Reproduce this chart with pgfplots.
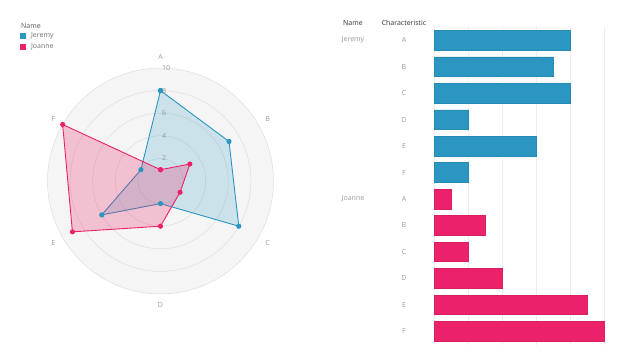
\documentclass[border=0pt]{standalone}
\usepackage{fontspec}
\setmainfont{Open Sans}
\usepackage{pgfplots}
\pgfplotsset{compat=1.18}
\usepgfplotslibrary{polar}
\definecolor{jblue}{HTML}{2A96C1}
\definecolor{jpink}{HTML}{EB2269}
\definecolor{lab}{HTML}{999999}
\definecolor{head}{HTML}{333333}
\begin{document}
\fontsize{7bp}{8.5bp}\selectfont
\begin{tikzpicture}
\path[use as bounding box] (0,0) rectangle (640bp,363bp);
% ---------------- radar ----------------
\begin{polaraxis}[
  at={(160.5bp,182bp)}, anchor=origin,
  scale only axis, width=226bp, height=226bp,
  ymin=0, ymax=10,
  xtick=\empty, ytick={2,4,6,8},
  yticklabel style={opacity=0},
  major tick length=0pt,
  ymajorgrids, grid style={draw=black!13, line width=0.5pt},
  x axis line style={draw=black!13, line width=0.5pt},
  y axis line style={draw=none},
  axis background/.style={fill=black!4},
  clip=false,
]
\addplot[color=jblue, line width=0.9pt, fill=jblue, fill opacity=0.2,
  mark=*, mark size=2.1pt, mark options={fill=jblue, fill opacity=1}]
  coordinates {(90,8) (30,7) (-30,8) (-90,2) (-150,6) (150,2) (90,8)};
\addplot[color=jpink, line width=0.9pt, fill=jpink, fill opacity=0.25,
  mark=*, mark size=2.1pt, mark options={fill=jpink, fill opacity=1}]
  coordinates {(90,1) (30,3) (-30,2) (-90,4) (-150,9) (150,10) (90,1)};
\node[anchor=west, text=lab, inner sep=0pt, xshift=1.5bp] at (axis cs:90,2) {2};
\node[anchor=west, text=lab, inner sep=0pt, xshift=1.5bp] at (axis cs:90,4) {4};
\node[anchor=west, text=lab, inner sep=0pt, xshift=1.5bp] at (axis cs:90,6) {6};
\node[anchor=west, text=lab, inner sep=0pt, xshift=1.5bp] at (axis cs:90,8) {8};
\node[anchor=west, text=lab, inner sep=0pt, xshift=1.5bp] at (axis cs:90,10) {10};
\node[text=lab] at (axis cs:90,10.95) {A};
\node[text=lab] at (axis cs:30,10.95) {B};
\node[text=lab] at (axis cs:-30,10.95) {C};
\node[text=lab] at (axis cs:-90,10.95) {D};
\node[text=lab] at (axis cs:-150,10.95) {E};
\node[text=lab] at (axis cs:150,10.95) {F};
\end{polaraxis}
% ---------------- bars ----------------
\begin{axis}[
  at={(434.3bp,18.5bp)}, anchor=south west,
  scale only axis, width=170bp, height=317.5bp,
  xmin=0, xmax=10, ymin=-0.5, ymax=11.5, y dir=reverse,
  axis line style={draw=none},
  xtick={0,2,4,6,8,10}, xticklabels={},
  ytick={0,...,11}, yticklabels={A,B,C,D,E,F,A,B,C,D,E,F},
  yticklabel style={anchor=center, xshift=-30.3bp, text=lab},
  major tick length=0pt,
  xmajorgrids, grid style={draw=black!7, line width=0.5pt},
  clip=false,
  legend style={at={(-2.437,0.9874)}, anchor=north west, draw=none, fill=none,
    inner sep=0pt, row sep=1.8bp, nodes={inner sep=1.5bp, text=black!55}},
  legend cell align=left,
]
\addplot[xbar, bar width=0.74, bar shift=0pt, fill=jblue, draw=jblue!92!black, line width=0.5pt, forget plot]
  coordinates {(8,0) (7,1) (8,2) (2,3) (6,4) (2,5)};
\addplot[xbar, bar width=0.74, bar shift=0pt, fill=jpink, draw=jpink!92!black, line width=0.5pt, forget plot]
  coordinates {(1,6) (3,7) (2,8) (4,9) (9,10) (10,11)};
\addlegendimage{legend image code/.code={\fill[jblue] (0bp,-2.5bp) rectangle (5bp,2.5bp); \path (9bp,0bp);}}
\addlegendentry{Jeremy}
\addlegendimage{legend image code/.code={\fill[jpink] (0bp,-2.5bp) rectangle (5bp,2.5bp); \path (9bp,0bp);}}
\addlegendentry{Joanne}
\node[text=lab] at (axis cs:0,0) [xshift=-81.3bp] {Jeremy};
\node[text=lab] at (axis cs:0,6) [xshift=-81.3bp] {Joanne};
\node[text=head] at (axis cs:0,-0.5) [xshift=-81.3bp, yshift=4bp] {Name};
\node[text=head] at (axis cs:0,-0.5) [xshift=-30.3bp, yshift=4bp] {Characteristic};
\end{axis}
\node[anchor=west, text=black!65, inner sep=0pt] at (21bp,337bp) {Name};
\end{tikzpicture}
\end{document}
